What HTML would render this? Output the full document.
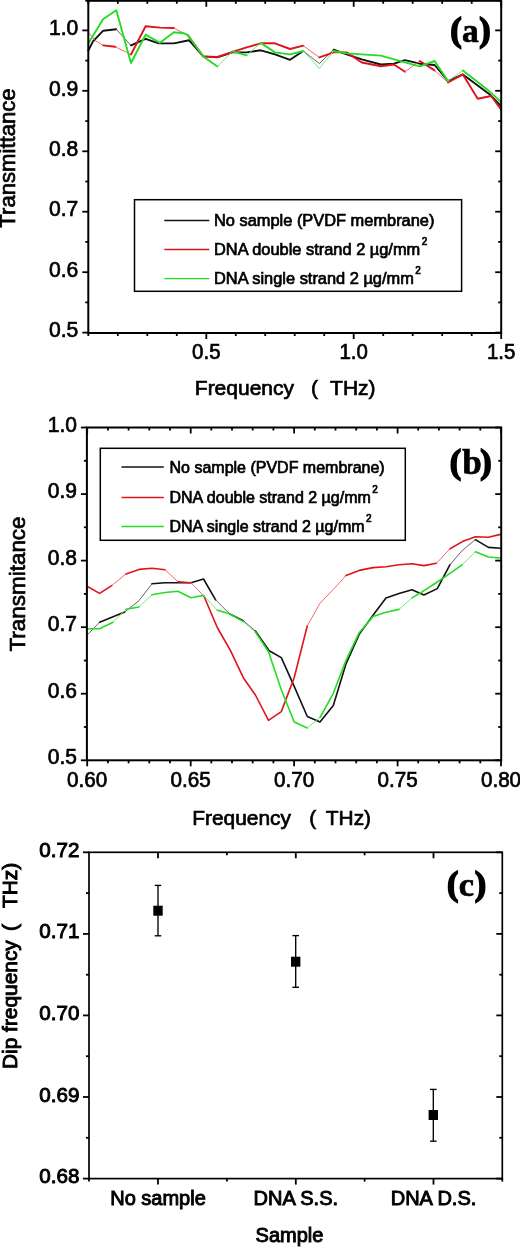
<!DOCTYPE html>
<html><head><meta charset="utf-8"><title>Figure</title>
<style>html,body{margin:0;padding:0;background:#fff}svg{display:block}
text{fill:#000;stroke:#000}
.s{font-family:"Liberation Sans",Arial,sans-serif}
.b{font-family:"Liberation Serif","Times New Roman",serif;font-weight:bold}
</style></head>
<body><svg width="520" height="1249" viewBox="0 0 520 1249">
<rect width="520" height="1249" fill="#fff"/>
<polyline points="88.3,50.5 93.0,41.4 103.2,30.7 116.3,29.3" fill="none" stroke="#111" stroke-width="1.9" stroke-linejoin="round" stroke-linecap="round"/>
<polyline points="116.3,29.3 131.0,45.4" fill="none" stroke="#555" stroke-width="0.9" stroke-linejoin="round" stroke-linecap="round"/>
<polyline points="131.0,45.4 145.6,38.8 158.7,43.4 173.9,43.4 189.0,40.2 203.2,56.4 217.4,57.4 232.5,52.4 246.6,52.4 260.8,50.3 275.0,54.4 290.0,59.8 303.3,51.0" fill="none" stroke="#111" stroke-width="1.9" stroke-linejoin="round" stroke-linecap="round"/>
<polyline points="303.3,51.0 319.4,63.5 333.6,49.7" fill="none" stroke="#555" stroke-width="0.9" stroke-linejoin="round" stroke-linecap="round"/>
<polyline points="333.6,49.7 346.7,54.4 361.8,59.4 380.8,64.5 394.0,63.7 405.0,60.2 419.8,63.7 434.6,65.0 448.0,81.0 462.9,74.4 489.8,94.6 501.0,106.0" fill="none" stroke="#111" stroke-width="1.9" stroke-linejoin="round" stroke-linecap="round"/>
<polyline points="88.3,32.3 95.0,40.4 103.2,45.4" fill="none" stroke="#ee5a5a" stroke-width="0.9" stroke-linejoin="round" stroke-linecap="round"/>
<polyline points="103.2,45.4 115.3,46.8" fill="none" stroke="#de141c" stroke-width="1.9" stroke-linejoin="round" stroke-linecap="round"/>
<polyline points="115.3,46.8 131.0,54.5" fill="none" stroke="#ee5a5a" stroke-width="0.9" stroke-linejoin="round" stroke-linecap="round"/>
<polyline points="131.0,54.5 145.6,26.3 160.0,27.6 173.9,28.0" fill="none" stroke="#de141c" stroke-width="1.9" stroke-linejoin="round" stroke-linecap="round"/>
<polyline points="173.9,28.0 188.0,35.5" fill="none" stroke="#ee5a5a" stroke-width="0.9" stroke-linejoin="round" stroke-linecap="round"/>
<polyline points="188.0,35.5 203.2,56.4 217.4,57.0 232.5,51.8 246.6,47.3 260.8,43.3 275.0,43.3 290.0,49.0 303.3,45.7" fill="none" stroke="#de141c" stroke-width="1.9" stroke-linejoin="round" stroke-linecap="round"/>
<polyline points="303.3,45.7 319.4,57.4" fill="none" stroke="#ee5a5a" stroke-width="0.9" stroke-linejoin="round" stroke-linecap="round"/>
<polyline points="319.4,57.4 333.6,52.4 346.7,52.4 361.8,62.5 380.8,66.3 394.0,64.5 405.0,71.7" fill="none" stroke="#de141c" stroke-width="1.9" stroke-linejoin="round" stroke-linecap="round"/>
<polyline points="405.0,71.7 419.8,61.0" fill="none" stroke="#ee5a5a" stroke-width="0.9" stroke-linejoin="round" stroke-linecap="round"/>
<polyline points="419.8,61.0 434.6,70.4" fill="none" stroke="#de141c" stroke-width="1.9" stroke-linejoin="round" stroke-linecap="round"/>
<polyline points="434.6,70.4 448.0,82.5" fill="none" stroke="#ee5a5a" stroke-width="0.9" stroke-linejoin="round" stroke-linecap="round"/>
<polyline points="448.0,82.5 462.9,74.4 477.7,98.7 491.2,96.0 501.0,109.5" fill="none" stroke="#de141c" stroke-width="1.9" stroke-linejoin="round" stroke-linecap="round"/>
<polyline points="88.3,43.4 103.0,19.2 116.3,10.2 131.0,63.0 145.6,34.7 160.0,42.8 173.9,32.3 184.0,33.3 188.0,35.2 203.2,56.4 217.4,66.5" fill="none" stroke="#25dc25" stroke-width="1.9" stroke-linejoin="round" stroke-linecap="round"/>
<polyline points="217.4,66.5 232.5,51.3" fill="none" stroke="#66e866" stroke-width="0.9" stroke-linejoin="round" stroke-linecap="round"/>
<polyline points="232.5,51.3 246.6,55.4" fill="none" stroke="#25dc25" stroke-width="1.9" stroke-linejoin="round" stroke-linecap="round"/>
<polyline points="246.6,55.4 260.8,42.9" fill="none" stroke="#66e866" stroke-width="0.9" stroke-linejoin="round" stroke-linecap="round"/>
<polyline points="260.8,42.9 275.0,52.4 290.0,54.4 303.3,51.0" fill="none" stroke="#25dc25" stroke-width="1.9" stroke-linejoin="round" stroke-linecap="round"/>
<polyline points="303.3,51.0 319.4,68.5 333.6,51.0" fill="none" stroke="#66e866" stroke-width="0.9" stroke-linejoin="round" stroke-linecap="round"/>
<polyline points="333.6,51.0 346.7,53.4 361.8,54.4 380.8,55.6 405.0,62.3 419.8,66.3 434.6,61.0 448.0,81.0" fill="none" stroke="#25dc25" stroke-width="1.9" stroke-linejoin="round" stroke-linecap="round"/>
<polyline points="448.0,81.0 462.9,70.4" fill="none" stroke="#66e866" stroke-width="0.9" stroke-linejoin="round" stroke-linecap="round"/>
<polyline points="462.9,70.4 488.5,90.6 501.0,102.0" fill="none" stroke="#25dc25" stroke-width="1.9" stroke-linejoin="round" stroke-linecap="round"/>
<rect x="88.3" y="0.8" width="412.9" height="332.2" fill="none" stroke="#000" stroke-width="2.0"/>
<line x1="82.3" y1="332.6" x2="88.3" y2="332.6" stroke="#000" stroke-width="1.8"/>
<line x1="495.2" y1="332.6" x2="501.2" y2="332.6" stroke="#000" stroke-width="1.8"/>
<text class="s" transform="translate(78.3,337.3) scale(0.96,1)" font-size="22" text-anchor="end" stroke-width="0.7" >0.5</text>
<line x1="85.3" y1="302.4" x2="88.3" y2="302.4" stroke="#000" stroke-width="1.8"/>
<line x1="498.2" y1="302.4" x2="501.2" y2="302.4" stroke="#000" stroke-width="1.8"/>
<line x1="82.3" y1="272.2" x2="88.3" y2="272.2" stroke="#000" stroke-width="1.8"/>
<line x1="495.2" y1="272.2" x2="501.2" y2="272.2" stroke="#000" stroke-width="1.8"/>
<text class="s" transform="translate(78.3,276.9) scale(0.96,1)" font-size="22" text-anchor="end" stroke-width="0.7" >0.6</text>
<line x1="85.3" y1="241.9" x2="88.3" y2="241.9" stroke="#000" stroke-width="1.8"/>
<line x1="498.2" y1="241.9" x2="501.2" y2="241.9" stroke="#000" stroke-width="1.8"/>
<line x1="82.3" y1="211.7" x2="88.3" y2="211.7" stroke="#000" stroke-width="1.8"/>
<line x1="495.2" y1="211.7" x2="501.2" y2="211.7" stroke="#000" stroke-width="1.8"/>
<text class="s" transform="translate(78.3,216.4) scale(0.96,1)" font-size="22" text-anchor="end" stroke-width="0.7" >0.7</text>
<line x1="85.3" y1="181.5" x2="88.3" y2="181.5" stroke="#000" stroke-width="1.8"/>
<line x1="498.2" y1="181.5" x2="501.2" y2="181.5" stroke="#000" stroke-width="1.8"/>
<line x1="82.3" y1="151.3" x2="88.3" y2="151.3" stroke="#000" stroke-width="1.8"/>
<line x1="495.2" y1="151.3" x2="501.2" y2="151.3" stroke="#000" stroke-width="1.8"/>
<text class="s" transform="translate(78.3,156.0) scale(0.96,1)" font-size="22" text-anchor="end" stroke-width="0.7" >0.8</text>
<line x1="85.3" y1="121.1" x2="88.3" y2="121.1" stroke="#000" stroke-width="1.8"/>
<line x1="498.2" y1="121.1" x2="501.2" y2="121.1" stroke="#000" stroke-width="1.8"/>
<line x1="82.3" y1="90.8" x2="88.3" y2="90.8" stroke="#000" stroke-width="1.8"/>
<line x1="495.2" y1="90.8" x2="501.2" y2="90.8" stroke="#000" stroke-width="1.8"/>
<text class="s" transform="translate(78.3,95.5) scale(0.96,1)" font-size="22" text-anchor="end" stroke-width="0.7" >0.9</text>
<line x1="85.3" y1="60.6" x2="88.3" y2="60.6" stroke="#000" stroke-width="1.8"/>
<line x1="498.2" y1="60.6" x2="501.2" y2="60.6" stroke="#000" stroke-width="1.8"/>
<line x1="82.3" y1="30.4" x2="88.3" y2="30.4" stroke="#000" stroke-width="1.8"/>
<line x1="495.2" y1="30.4" x2="501.2" y2="30.4" stroke="#000" stroke-width="1.8"/>
<text class="s" transform="translate(78.3,35.1) scale(0.96,1)" font-size="22" text-anchor="end" stroke-width="0.7" >1.0</text>
<line x1="85.3" y1="0.8" x2="88.3" y2="0.8" stroke="#000" stroke-width="1.8"/>
<line x1="498.2" y1="0.8" x2="501.2" y2="0.8" stroke="#000" stroke-width="1.8"/>
<line x1="88.3" y1="333.0" x2="88.3" y2="336.0" stroke="#000" stroke-width="1.8"/>
<line x1="88.3" y1="0.8" x2="88.3" y2="3.8" stroke="#000" stroke-width="1.8"/>
<line x1="117.8" y1="333.0" x2="117.8" y2="336.0" stroke="#000" stroke-width="1.8"/>
<line x1="117.8" y1="0.8" x2="117.8" y2="3.8" stroke="#000" stroke-width="1.8"/>
<line x1="147.3" y1="333.0" x2="147.3" y2="336.0" stroke="#000" stroke-width="1.8"/>
<line x1="147.3" y1="0.8" x2="147.3" y2="3.8" stroke="#000" stroke-width="1.8"/>
<line x1="176.8" y1="333.0" x2="176.8" y2="336.0" stroke="#000" stroke-width="1.8"/>
<line x1="176.8" y1="0.8" x2="176.8" y2="3.8" stroke="#000" stroke-width="1.8"/>
<line x1="206.3" y1="333.0" x2="206.3" y2="339.0" stroke="#000" stroke-width="1.8"/>
<line x1="206.3" y1="0.8" x2="206.3" y2="6.8" stroke="#000" stroke-width="1.8"/>
<text class="s" transform="translate(206.3,359.2) scale(0.93,1)" font-size="22" text-anchor="middle" stroke-width="0.7" >0.5</text>
<line x1="235.8" y1="333.0" x2="235.8" y2="336.0" stroke="#000" stroke-width="1.8"/>
<line x1="235.8" y1="0.8" x2="235.8" y2="3.8" stroke="#000" stroke-width="1.8"/>
<line x1="265.2" y1="333.0" x2="265.2" y2="336.0" stroke="#000" stroke-width="1.8"/>
<line x1="265.2" y1="0.8" x2="265.2" y2="3.8" stroke="#000" stroke-width="1.8"/>
<line x1="294.7" y1="333.0" x2="294.7" y2="336.0" stroke="#000" stroke-width="1.8"/>
<line x1="294.7" y1="0.8" x2="294.7" y2="3.8" stroke="#000" stroke-width="1.8"/>
<line x1="324.2" y1="333.0" x2="324.2" y2="336.0" stroke="#000" stroke-width="1.8"/>
<line x1="324.2" y1="0.8" x2="324.2" y2="3.8" stroke="#000" stroke-width="1.8"/>
<line x1="353.7" y1="333.0" x2="353.7" y2="339.0" stroke="#000" stroke-width="1.8"/>
<line x1="353.7" y1="0.8" x2="353.7" y2="6.8" stroke="#000" stroke-width="1.8"/>
<text class="s" transform="translate(353.7,359.2) scale(0.93,1)" font-size="22" text-anchor="middle" stroke-width="0.7" >1.0</text>
<line x1="383.2" y1="333.0" x2="383.2" y2="336.0" stroke="#000" stroke-width="1.8"/>
<line x1="383.2" y1="0.8" x2="383.2" y2="3.8" stroke="#000" stroke-width="1.8"/>
<line x1="412.7" y1="333.0" x2="412.7" y2="336.0" stroke="#000" stroke-width="1.8"/>
<line x1="412.7" y1="0.8" x2="412.7" y2="3.8" stroke="#000" stroke-width="1.8"/>
<line x1="442.2" y1="333.0" x2="442.2" y2="336.0" stroke="#000" stroke-width="1.8"/>
<line x1="442.2" y1="0.8" x2="442.2" y2="3.8" stroke="#000" stroke-width="1.8"/>
<line x1="471.7" y1="333.0" x2="471.7" y2="336.0" stroke="#000" stroke-width="1.8"/>
<line x1="471.7" y1="0.8" x2="471.7" y2="3.8" stroke="#000" stroke-width="1.8"/>
<line x1="501.2" y1="333.0" x2="501.2" y2="339.0" stroke="#000" stroke-width="1.8"/>
<line x1="501.2" y1="0.8" x2="501.2" y2="6.8" stroke="#000" stroke-width="1.8"/>
<text class="s" transform="translate(501.2,359.2) scale(0.93,1)" font-size="22" text-anchor="middle" stroke-width="0.7" >1.5</text>
<rect x="134.5" y="199.7" width="327.1" height="91.6" fill="none" stroke="#000" stroke-width="1.5"/>
<line x1="164.3" y1="220.5" x2="209.3" y2="220.5" stroke="#111" stroke-width="1.3"/>
<text class="s" transform="translate(214.0,226.2)" font-size="16.4" text-anchor="start" stroke-width="0.7" >No sample (PVDF membrane)</text>
<line x1="164.3" y1="249.5" x2="209.3" y2="249.5" stroke="#de141c" stroke-width="1.3"/>
<text class="s" transform="translate(214.0,255.2)" font-size="16.4" text-anchor="start" stroke-width="0.7" >DNA double strand 2 µg/mm<tspan dy="-10.6" font-size="10" dx="1.5">2</tspan></text>
<line x1="164.3" y1="278.6" x2="209.3" y2="278.6" stroke="#25dc25" stroke-width="1.3"/>
<text class="s" transform="translate(214.0,284.3)" font-size="16.4" text-anchor="start" stroke-width="0.7" >DNA single strand 2 µg/mm<tspan dy="-10.6" font-size="10" dx="1.5">2</tspan></text>
<text class="b" transform="translate(449.5,41.9)" stroke-width="0.7"><tspan x="1.0" y="-0.5" font-size="32.9" stroke-width="1.9">(</tspan><tspan x="12.4" y="0" font-size="33.5">a</tspan><tspan x="30.0" y="-0.5" font-size="32.9" stroke-width="1.9">)</tspan></text>
<text class="s" transform="translate(194.8,395.2)" font-size="21" stroke-width="0.7" xml:space="preserve"><tspan x="0.0">Frequency </tspan><tspan x="116.2">( </tspan><tspan x="135.3">THz)</tspan></text>
<text class="s" transform="translate(14.9,158.0) rotate(-90) scale(1.015,1)" font-size="21.8" text-anchor="middle" stroke-width="0.7" >Transmittance</text>
<polyline points="87.0,635.2 99.6,622.2" fill="none" stroke="#555" stroke-width="0.9" stroke-linejoin="round" stroke-linecap="round"/>
<polyline points="99.6,622.2 124.7,612.0" fill="none" stroke="#111" stroke-width="1.6" stroke-linejoin="round" stroke-linecap="round"/>
<polyline points="124.7,612.0 139.0,600.6 152.0,583.8" fill="none" stroke="#555" stroke-width="0.9" stroke-linejoin="round" stroke-linecap="round"/>
<polyline points="152.0,583.8 165.0,582.7 191.0,582.7 203.5,579.0 215.6,599.8" fill="none" stroke="#111" stroke-width="1.6" stroke-linejoin="round" stroke-linecap="round"/>
<polyline points="215.6,599.8 229.4,613.7" fill="none" stroke="#555" stroke-width="0.9" stroke-linejoin="round" stroke-linecap="round"/>
<polyline points="229.4,613.7 243.3,620.6" fill="none" stroke="#111" stroke-width="1.6" stroke-linejoin="round" stroke-linecap="round"/>
<polyline points="243.3,620.6 255.4,631.0" fill="none" stroke="#555" stroke-width="0.9" stroke-linejoin="round" stroke-linecap="round"/>
<polyline points="255.4,631.0 269.2,650.7 281.3,657.6 294.2,686.3 307.3,716.5 320.0,722.0 333.3,705.4 346.0,663.8 359.2,634.4 373.0,615.2 386.0,597.9 399.0,593.5 412.0,589.8 424.0,595.0 437.3,588.6 450.0,564.7" fill="none" stroke="#111" stroke-width="1.6" stroke-linejoin="round" stroke-linecap="round"/>
<polyline points="450.0,564.7 462.4,550.3 475.4,539.6" fill="none" stroke="#555" stroke-width="0.9" stroke-linejoin="round" stroke-linecap="round"/>
<polyline points="475.4,539.6 488.4,547.4 500.5,548.3" fill="none" stroke="#111" stroke-width="1.6" stroke-linejoin="round" stroke-linecap="round"/>
<polyline points="87.0,586.2 99.6,593.4 111.7,585.6" fill="none" stroke="#de141c" stroke-width="1.6" stroke-linejoin="round" stroke-linecap="round"/>
<polyline points="111.7,585.6 126.0,574.0" fill="none" stroke="#ee5a5a" stroke-width="0.9" stroke-linejoin="round" stroke-linecap="round"/>
<polyline points="126.0,574.0 139.0,569.4 152.0,568.3 165.0,569.7" fill="none" stroke="#de141c" stroke-width="1.6" stroke-linejoin="round" stroke-linecap="round"/>
<polyline points="165.0,569.7 178.0,581.8" fill="none" stroke="#ee5a5a" stroke-width="0.9" stroke-linejoin="round" stroke-linecap="round"/>
<polyline points="178.0,581.8 191.0,582.7" fill="none" stroke="#de141c" stroke-width="1.6" stroke-linejoin="round" stroke-linecap="round"/>
<polyline points="191.0,582.7 204.0,596.2" fill="none" stroke="#ee5a5a" stroke-width="0.9" stroke-linejoin="round" stroke-linecap="round"/>
<polyline points="204.0,596.2 217.3,627.5 230.5,650.7 243.3,677.7 255.4,695.0 268.5,720.3 281.3,711.6 294.2,677.7 307.3,625.8" fill="none" stroke="#de141c" stroke-width="1.6" stroke-linejoin="round" stroke-linecap="round"/>
<polyline points="307.3,625.8 320.0,603.3 333.3,589.4 346.0,575.6" fill="none" stroke="#ee5a5a" stroke-width="0.9" stroke-linejoin="round" stroke-linecap="round"/>
<polyline points="346.0,575.6 359.2,570.4 373.0,567.6 386.0,566.7 399.0,564.7 412.0,563.8 424.0,565.6 436.4,563.3" fill="none" stroke="#de141c" stroke-width="1.6" stroke-linejoin="round" stroke-linecap="round"/>
<polyline points="436.4,563.3 450.0,548.8" fill="none" stroke="#ee5a5a" stroke-width="0.9" stroke-linejoin="round" stroke-linecap="round"/>
<polyline points="450.0,548.8 462.4,541.6 475.4,536.7 488.4,537.3 500.5,534.4" fill="none" stroke="#de141c" stroke-width="1.6" stroke-linejoin="round" stroke-linecap="round"/>
<polyline points="87.0,628.8 99.6,628.8 113.0,622.2" fill="none" stroke="#25dc25" stroke-width="1.6" stroke-linejoin="round" stroke-linecap="round"/>
<polyline points="113.0,622.2 126.0,609.2" fill="none" stroke="#66e866" stroke-width="0.9" stroke-linejoin="round" stroke-linecap="round"/>
<polyline points="126.0,609.2 139.0,607.0" fill="none" stroke="#25dc25" stroke-width="1.6" stroke-linejoin="round" stroke-linecap="round"/>
<polyline points="139.0,607.0 152.0,594.8" fill="none" stroke="#66e866" stroke-width="0.9" stroke-linejoin="round" stroke-linecap="round"/>
<polyline points="152.0,594.8 165.0,592.5 178.0,591.3 191.0,597.7 203.5,595.4" fill="none" stroke="#25dc25" stroke-width="1.6" stroke-linejoin="round" stroke-linecap="round"/>
<polyline points="203.5,595.4 217.3,610.2" fill="none" stroke="#66e866" stroke-width="0.9" stroke-linejoin="round" stroke-linecap="round"/>
<polyline points="217.3,610.2 229.4,613.7 243.3,621.6" fill="none" stroke="#25dc25" stroke-width="1.6" stroke-linejoin="round" stroke-linecap="round"/>
<polyline points="243.3,621.6 255.4,632.0" fill="none" stroke="#66e866" stroke-width="0.9" stroke-linejoin="round" stroke-linecap="round"/>
<polyline points="255.4,632.0 268.5,651.7 281.3,689.8 294.2,722.0 307.3,727.9" fill="none" stroke="#25dc25" stroke-width="1.6" stroke-linejoin="round" stroke-linecap="round"/>
<polyline points="307.3,727.9 320.0,717.5" fill="none" stroke="#66e866" stroke-width="0.9" stroke-linejoin="round" stroke-linecap="round"/>
<polyline points="320.0,717.5 333.3,693.3 346.0,660.4 359.2,632.7 373.0,616.6 386.0,612.3 399.0,609.4" fill="none" stroke="#25dc25" stroke-width="1.6" stroke-linejoin="round" stroke-linecap="round"/>
<polyline points="399.0,609.4 412.0,597.9" fill="none" stroke="#66e866" stroke-width="0.9" stroke-linejoin="round" stroke-linecap="round"/>
<polyline points="412.0,597.9 424.0,590.7 437.3,582.0 450.0,573.4 462.4,564.7" fill="none" stroke="#25dc25" stroke-width="1.6" stroke-linejoin="round" stroke-linecap="round"/>
<polyline points="462.4,564.7 475.4,551.7" fill="none" stroke="#66e866" stroke-width="0.9" stroke-linejoin="round" stroke-linecap="round"/>
<polyline points="475.4,551.7 488.4,557.0 500.5,558.0" fill="none" stroke="#25dc25" stroke-width="1.6" stroke-linejoin="round" stroke-linecap="round"/>
<rect x="86.9" y="427.5" width="414.3" height="332.8" fill="none" stroke="#000" stroke-width="2.0"/>
<line x1="80.9" y1="760.3" x2="86.9" y2="760.3" stroke="#000" stroke-width="1.8"/>
<line x1="495.2" y1="760.3" x2="501.2" y2="760.3" stroke="#000" stroke-width="1.8"/>
<text class="s" transform="translate(77.0,764.3) scale(0.955,1)" font-size="22" text-anchor="end" stroke-width="0.7" >0.5</text>
<line x1="83.9" y1="727.0" x2="86.9" y2="727.0" stroke="#000" stroke-width="1.8"/>
<line x1="498.2" y1="727.0" x2="501.2" y2="727.0" stroke="#000" stroke-width="1.8"/>
<line x1="80.9" y1="693.7" x2="86.9" y2="693.7" stroke="#000" stroke-width="1.8"/>
<line x1="495.2" y1="693.7" x2="501.2" y2="693.7" stroke="#000" stroke-width="1.8"/>
<text class="s" transform="translate(77.0,697.7) scale(0.955,1)" font-size="22" text-anchor="end" stroke-width="0.7" >0.6</text>
<line x1="83.9" y1="660.5" x2="86.9" y2="660.5" stroke="#000" stroke-width="1.8"/>
<line x1="498.2" y1="660.5" x2="501.2" y2="660.5" stroke="#000" stroke-width="1.8"/>
<line x1="80.9" y1="627.2" x2="86.9" y2="627.2" stroke="#000" stroke-width="1.8"/>
<line x1="495.2" y1="627.2" x2="501.2" y2="627.2" stroke="#000" stroke-width="1.8"/>
<text class="s" transform="translate(77.0,631.2) scale(0.955,1)" font-size="22" text-anchor="end" stroke-width="0.7" >0.7</text>
<line x1="83.9" y1="593.9" x2="86.9" y2="593.9" stroke="#000" stroke-width="1.8"/>
<line x1="498.2" y1="593.9" x2="501.2" y2="593.9" stroke="#000" stroke-width="1.8"/>
<line x1="80.9" y1="560.6" x2="86.9" y2="560.6" stroke="#000" stroke-width="1.8"/>
<line x1="495.2" y1="560.6" x2="501.2" y2="560.6" stroke="#000" stroke-width="1.8"/>
<text class="s" transform="translate(77.0,564.6) scale(0.955,1)" font-size="22" text-anchor="end" stroke-width="0.7" >0.8</text>
<line x1="83.9" y1="527.3" x2="86.9" y2="527.3" stroke="#000" stroke-width="1.8"/>
<line x1="498.2" y1="527.3" x2="501.2" y2="527.3" stroke="#000" stroke-width="1.8"/>
<line x1="80.9" y1="494.1" x2="86.9" y2="494.1" stroke="#000" stroke-width="1.8"/>
<line x1="495.2" y1="494.1" x2="501.2" y2="494.1" stroke="#000" stroke-width="1.8"/>
<text class="s" transform="translate(77.0,498.1) scale(0.955,1)" font-size="22" text-anchor="end" stroke-width="0.7" >0.9</text>
<line x1="83.9" y1="460.8" x2="86.9" y2="460.8" stroke="#000" stroke-width="1.8"/>
<line x1="498.2" y1="460.8" x2="501.2" y2="460.8" stroke="#000" stroke-width="1.8"/>
<line x1="80.9" y1="427.5" x2="86.9" y2="427.5" stroke="#000" stroke-width="1.8"/>
<line x1="495.2" y1="427.5" x2="501.2" y2="427.5" stroke="#000" stroke-width="1.8"/>
<text class="s" transform="translate(77.0,431.5) scale(0.955,1)" font-size="22" text-anchor="end" stroke-width="0.7" >1.0</text>
<line x1="87.2" y1="760.3" x2="87.2" y2="766.3" stroke="#000" stroke-width="1.8"/>
<line x1="87.2" y1="427.5" x2="87.2" y2="433.5" stroke="#000" stroke-width="1.8"/>
<text class="s" transform="translate(87.2,787.0) scale(0.97,1)" font-size="21.3" text-anchor="middle" stroke-width="0.7" >0.60</text>
<line x1="107.9" y1="760.3" x2="107.9" y2="763.3" stroke="#000" stroke-width="1.8"/>
<line x1="107.9" y1="427.5" x2="107.9" y2="430.5" stroke="#000" stroke-width="1.8"/>
<line x1="128.6" y1="760.3" x2="128.6" y2="763.3" stroke="#000" stroke-width="1.8"/>
<line x1="128.6" y1="427.5" x2="128.6" y2="430.5" stroke="#000" stroke-width="1.8"/>
<line x1="149.3" y1="760.3" x2="149.3" y2="763.3" stroke="#000" stroke-width="1.8"/>
<line x1="149.3" y1="427.5" x2="149.3" y2="430.5" stroke="#000" stroke-width="1.8"/>
<line x1="170.0" y1="760.3" x2="170.0" y2="763.3" stroke="#000" stroke-width="1.8"/>
<line x1="170.0" y1="427.5" x2="170.0" y2="430.5" stroke="#000" stroke-width="1.8"/>
<line x1="190.7" y1="760.3" x2="190.7" y2="766.3" stroke="#000" stroke-width="1.8"/>
<line x1="190.7" y1="427.5" x2="190.7" y2="433.5" stroke="#000" stroke-width="1.8"/>
<text class="s" transform="translate(190.7,787.0) scale(0.97,1)" font-size="21.3" text-anchor="middle" stroke-width="0.7" >0.65</text>
<line x1="211.3" y1="760.3" x2="211.3" y2="763.3" stroke="#000" stroke-width="1.8"/>
<line x1="211.3" y1="427.5" x2="211.3" y2="430.5" stroke="#000" stroke-width="1.8"/>
<line x1="232.0" y1="760.3" x2="232.0" y2="763.3" stroke="#000" stroke-width="1.8"/>
<line x1="232.0" y1="427.5" x2="232.0" y2="430.5" stroke="#000" stroke-width="1.8"/>
<line x1="252.7" y1="760.3" x2="252.7" y2="763.3" stroke="#000" stroke-width="1.8"/>
<line x1="252.7" y1="427.5" x2="252.7" y2="430.5" stroke="#000" stroke-width="1.8"/>
<line x1="273.4" y1="760.3" x2="273.4" y2="763.3" stroke="#000" stroke-width="1.8"/>
<line x1="273.4" y1="427.5" x2="273.4" y2="430.5" stroke="#000" stroke-width="1.8"/>
<line x1="294.1" y1="760.3" x2="294.1" y2="766.3" stroke="#000" stroke-width="1.8"/>
<line x1="294.1" y1="427.5" x2="294.1" y2="433.5" stroke="#000" stroke-width="1.8"/>
<text class="s" transform="translate(294.1,787.0) scale(0.97,1)" font-size="21.3" text-anchor="middle" stroke-width="0.7" >0.70</text>
<line x1="314.8" y1="760.3" x2="314.8" y2="763.3" stroke="#000" stroke-width="1.8"/>
<line x1="314.8" y1="427.5" x2="314.8" y2="430.5" stroke="#000" stroke-width="1.8"/>
<line x1="335.5" y1="760.3" x2="335.5" y2="763.3" stroke="#000" stroke-width="1.8"/>
<line x1="335.5" y1="427.5" x2="335.5" y2="430.5" stroke="#000" stroke-width="1.8"/>
<line x1="356.2" y1="760.3" x2="356.2" y2="763.3" stroke="#000" stroke-width="1.8"/>
<line x1="356.2" y1="427.5" x2="356.2" y2="430.5" stroke="#000" stroke-width="1.8"/>
<line x1="376.9" y1="760.3" x2="376.9" y2="763.3" stroke="#000" stroke-width="1.8"/>
<line x1="376.9" y1="427.5" x2="376.9" y2="430.5" stroke="#000" stroke-width="1.8"/>
<line x1="397.6" y1="760.3" x2="397.6" y2="766.3" stroke="#000" stroke-width="1.8"/>
<line x1="397.6" y1="427.5" x2="397.6" y2="433.5" stroke="#000" stroke-width="1.8"/>
<text class="s" transform="translate(397.6,787.0) scale(0.97,1)" font-size="21.3" text-anchor="middle" stroke-width="0.7" >0.75</text>
<line x1="418.2" y1="760.3" x2="418.2" y2="763.3" stroke="#000" stroke-width="1.8"/>
<line x1="418.2" y1="427.5" x2="418.2" y2="430.5" stroke="#000" stroke-width="1.8"/>
<line x1="438.9" y1="760.3" x2="438.9" y2="763.3" stroke="#000" stroke-width="1.8"/>
<line x1="438.9" y1="427.5" x2="438.9" y2="430.5" stroke="#000" stroke-width="1.8"/>
<line x1="459.6" y1="760.3" x2="459.6" y2="763.3" stroke="#000" stroke-width="1.8"/>
<line x1="459.6" y1="427.5" x2="459.6" y2="430.5" stroke="#000" stroke-width="1.8"/>
<line x1="480.3" y1="760.3" x2="480.3" y2="763.3" stroke="#000" stroke-width="1.8"/>
<line x1="480.3" y1="427.5" x2="480.3" y2="430.5" stroke="#000" stroke-width="1.8"/>
<line x1="501.0" y1="760.3" x2="501.0" y2="766.3" stroke="#000" stroke-width="1.8"/>
<line x1="501.0" y1="427.5" x2="501.0" y2="433.5" stroke="#000" stroke-width="1.8"/>
<text class="s" transform="translate(501.0,787.0) scale(0.97,1)" font-size="21.3" text-anchor="middle" stroke-width="0.7" >0.80</text>
<rect x="100.3" y="448.3" width="305.0" height="92.0" fill="#fff" stroke="#000" stroke-width="1.5"/>
<line x1="121.5" y1="467.0" x2="163.8" y2="467.0" stroke="#111" stroke-width="1.3"/>
<text class="s" transform="translate(169.5,472.8)" font-size="16.0" text-anchor="start" stroke-width="0.7" >No sample (PVDF membrane)</text>
<line x1="121.5" y1="497.5" x2="163.8" y2="497.5" stroke="#de141c" stroke-width="1.3"/>
<text class="s" transform="translate(169.5,503.3)" font-size="16.0" text-anchor="start" stroke-width="0.7" >DNA double strand 2 µg/mm<tspan dy="-10.6" font-size="10" dx="1.5">2</tspan></text>
<line x1="121.5" y1="526.5" x2="163.8" y2="526.5" stroke="#25dc25" stroke-width="1.3"/>
<text class="s" transform="translate(169.5,532.3)" font-size="16.0" text-anchor="start" stroke-width="0.7" >DNA single strand 2 µg/mm<tspan dy="-10.6" font-size="10" dx="1.5">2</tspan></text>
<text class="b" transform="translate(449.1,473.8)" stroke-width="0.7"><tspan x="1.0" y="-0.9" font-size="32.9" stroke-width="1.9">(</tspan><tspan x="13.1" y="0" font-size="35.1">b</tspan><tspan x="31.5" y="-0.9" font-size="32.9" stroke-width="1.9">)</tspan></text>
<text class="s" transform="translate(192.2,825.0)" font-size="20.9" stroke-width="0.7" xml:space="preserve"><tspan x="0.0">Frequency </tspan><tspan x="117.1">( </tspan><tspan x="133.6">THz)</tspan></text>
<text class="s" transform="translate(24.6,584.0) rotate(-90) scale(1.045,1)" font-size="21.5" text-anchor="middle" stroke-width="0.7" >Transmitance</text>
<rect x="89.0" y="852.3" width="413.3" height="326.3" fill="none" stroke="#000" stroke-width="1.7"/>
<line x1="83.0" y1="1178.6" x2="89.0" y2="1178.6" stroke="#000" stroke-width="1.8"/>
<line x1="496.3" y1="1178.6" x2="502.3" y2="1178.6" stroke="#000" stroke-width="1.8"/>
<text class="s" transform="translate(79.4,1183.1)" font-size="20.6" text-anchor="end" stroke-width="0.95" >0.68</text>
<line x1="86.0" y1="1137.8" x2="89.0" y2="1137.8" stroke="#000" stroke-width="1.8"/>
<line x1="499.3" y1="1137.8" x2="502.3" y2="1137.8" stroke="#000" stroke-width="1.8"/>
<line x1="83.0" y1="1097.0" x2="89.0" y2="1097.0" stroke="#000" stroke-width="1.8"/>
<line x1="496.3" y1="1097.0" x2="502.3" y2="1097.0" stroke="#000" stroke-width="1.8"/>
<text class="s" transform="translate(79.4,1101.5)" font-size="20.6" text-anchor="end" stroke-width="0.95" >0.69</text>
<line x1="86.0" y1="1056.2" x2="89.0" y2="1056.2" stroke="#000" stroke-width="1.8"/>
<line x1="499.3" y1="1056.2" x2="502.3" y2="1056.2" stroke="#000" stroke-width="1.8"/>
<line x1="83.0" y1="1015.4" x2="89.0" y2="1015.4" stroke="#000" stroke-width="1.8"/>
<line x1="496.3" y1="1015.4" x2="502.3" y2="1015.4" stroke="#000" stroke-width="1.8"/>
<text class="s" transform="translate(79.4,1019.9)" font-size="20.6" text-anchor="end" stroke-width="0.95" >0.70</text>
<line x1="86.0" y1="974.7" x2="89.0" y2="974.7" stroke="#000" stroke-width="1.8"/>
<line x1="499.3" y1="974.7" x2="502.3" y2="974.7" stroke="#000" stroke-width="1.8"/>
<line x1="83.0" y1="933.9" x2="89.0" y2="933.9" stroke="#000" stroke-width="1.8"/>
<line x1="496.3" y1="933.9" x2="502.3" y2="933.9" stroke="#000" stroke-width="1.8"/>
<text class="s" transform="translate(79.4,938.4)" font-size="20.6" text-anchor="end" stroke-width="0.95" >0.71</text>
<line x1="86.0" y1="893.1" x2="89.0" y2="893.1" stroke="#000" stroke-width="1.8"/>
<line x1="499.3" y1="893.1" x2="502.3" y2="893.1" stroke="#000" stroke-width="1.8"/>
<line x1="83.0" y1="852.3" x2="89.0" y2="852.3" stroke="#000" stroke-width="1.8"/>
<line x1="496.3" y1="852.3" x2="502.3" y2="852.3" stroke="#000" stroke-width="1.8"/>
<text class="s" transform="translate(79.4,856.8)" font-size="20.6" text-anchor="end" stroke-width="0.95" >0.72</text>
<line x1="158.0" y1="1178.6" x2="158.0" y2="1184.6" stroke="#000" stroke-width="1.8"/>
<line x1="158.0" y1="852.3" x2="158.0" y2="858.3" stroke="#000" stroke-width="1.8"/>
<text class="s" transform="translate(158.0,1205.3)" font-size="20" text-anchor="middle" stroke-width="0.95" >No sample</text>
<line x1="295.8" y1="1178.6" x2="295.8" y2="1184.6" stroke="#000" stroke-width="1.8"/>
<line x1="295.8" y1="852.3" x2="295.8" y2="858.3" stroke="#000" stroke-width="1.8"/>
<text class="s" transform="translate(295.8,1205.3)" font-size="20" text-anchor="middle" stroke-width="0.95" >DNA S.S.</text>
<line x1="433.5" y1="1178.6" x2="433.5" y2="1184.6" stroke="#000" stroke-width="1.8"/>
<line x1="433.5" y1="852.3" x2="433.5" y2="858.3" stroke="#000" stroke-width="1.8"/>
<text class="s" transform="translate(433.5,1205.3)" font-size="20" text-anchor="middle" stroke-width="0.95" >DNA D.S.</text>
<line x1="226.9" y1="1178.6" x2="226.9" y2="1181.6" stroke="#000" stroke-width="1.8"/>
<line x1="226.9" y1="852.3" x2="226.9" y2="855.3" stroke="#000" stroke-width="1.8"/>
<line x1="364.6" y1="1178.6" x2="364.6" y2="1181.6" stroke="#000" stroke-width="1.8"/>
<line x1="364.6" y1="852.3" x2="364.6" y2="855.3" stroke="#000" stroke-width="1.8"/>
<line x1="502.3" y1="1178.6" x2="502.3" y2="1181.6" stroke="#000" stroke-width="1.8"/>
<line x1="89.0" y1="1178.6" x2="89.0" y2="1181.6" stroke="#000" stroke-width="1.8"/>
<line x1="158.0" y1="885.4" x2="158.0" y2="935.8" stroke="#000" stroke-width="1.35"/>
<line x1="154.7" y1="885.4" x2="161.3" y2="885.4" stroke="#000" stroke-width="1.35"/>
<line x1="154.7" y1="935.8" x2="161.3" y2="935.8" stroke="#000" stroke-width="1.35"/>
<rect x="153.3" y="905.7" width="9.4" height="10" fill="#000"/>
<line x1="295.7" y1="935.6" x2="295.7" y2="987.3" stroke="#000" stroke-width="1.35"/>
<line x1="292.4" y1="935.6" x2="299.0" y2="935.6" stroke="#000" stroke-width="1.35"/>
<line x1="292.4" y1="987.3" x2="299.0" y2="987.3" stroke="#000" stroke-width="1.35"/>
<rect x="291.0" y="956.7" width="9.4" height="10" fill="#000"/>
<line x1="433.3" y1="1089.4" x2="433.3" y2="1141.2" stroke="#000" stroke-width="1.35"/>
<line x1="430.0" y1="1089.4" x2="436.6" y2="1089.4" stroke="#000" stroke-width="1.35"/>
<line x1="430.0" y1="1141.2" x2="436.6" y2="1141.2" stroke="#000" stroke-width="1.35"/>
<rect x="428.6" y="1110.0" width="9.4" height="10" fill="#000"/>
<text class="b" transform="translate(446.2,895.7)" stroke-width="0.7"><tspan x="1.0" y="-0.8" font-size="32.9" stroke-width="1.9">(</tspan><tspan x="12.6" y="0" font-size="34.3">c</tspan><tspan x="28.8" y="-0.8" font-size="32.9" stroke-width="1.9">)</tspan></text>
<text class="s" transform="translate(289.5,1242.0)" font-size="20" text-anchor="middle" stroke-width="0.95" >Sample</text>
<text class="s" transform="translate(16.5,1069.0) rotate(-90) scale(1.024,1)" font-size="20.4" stroke-width="0.95" xml:space="preserve"><tspan x="0.0">Dip frequency </tspan><tspan x="134.8">( </tspan><tspan x="157.2">THz)</tspan></text>
</svg></body></html>
